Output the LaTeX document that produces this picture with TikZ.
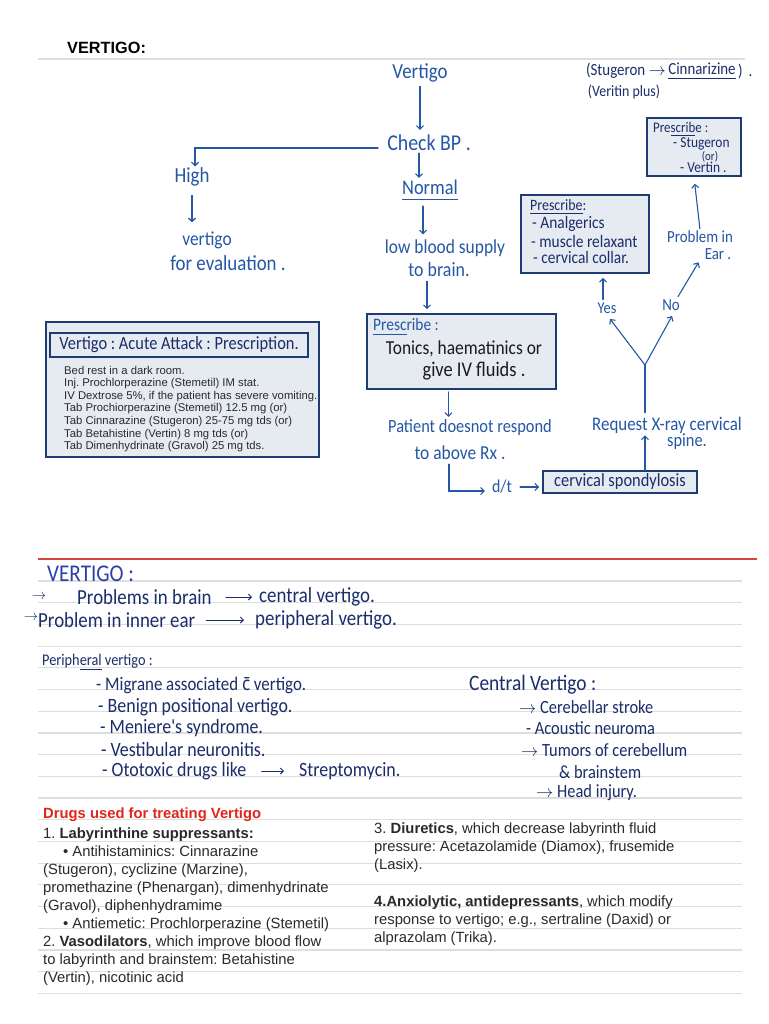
\documentclass[tikz,border=0pt]{standalone}
\usepackage{fontspec}
\setmainfont{Liberation Sans}
\newfontfamily\hand{Carlito}[FakeStretch=0.88]
\newfontfamily\notos{Noto Sans}[FakeStretch=0.88]
\usetikzlibrary{arrows.meta,calc}
\definecolor{ink}{HTML}{2457A6}
\definecolor{navy}{HTML}{1B2D6B}
\definecolor{vblue}{HTML}{2B3FA8}
\definecolor{boxline}{HTML}{1F3B73}
\definecolor{boxfill}{HTML}{E6EAF1}
\definecolor{rulec}{HTML}{DEDEDE}
\definecolor{redl}{HTML}{D64541}
\definecolor{drugred}{HTML}{E1251B}
\definecolor{txt}{HTML}{2A2A2A}
\definecolor{darktxt}{HTML}{1A1A1A}
\newcommand{\myul}[1]{\setbox0\hbox{#1}\rlap{\rule[-0.25em]{\wd0}{1.1pt}}\box0\relax}
\frenchspacing
\begin{document}
\begin{tikzpicture}[x=1pt,y=-1pt,
  hw/.style={font=\hand\fontsize{\fpeval{#1*1.13}}{\fpeval{#1*1.13}}\selectfont, text=ink, inner sep=1pt},
  hw/.default=16,
  nv/.style={hw=#1, text=navy},
  nv/.default=16,
  arr/.style={draw=ink, line width=1.1pt, line cap=round, -{Straight Barb[length=3.5pt,width=7pt]}},
  narr/.style={draw=navy, line width=1pt, line cap=round, -{Straight Barb[length=3pt,width=6pt]}},
  plain/.style={draw=ink, line width=1.1pt, line cap=round},
  flowbox/.style={draw=boxline, fill=boxfill, line width=1.6pt, inner sep=0pt},
  ruleline/.style={draw=rulec, line width=1.2pt},
  body/.style={font=\fontsize{14.8}{17}\selectfont, text=txt, anchor=base west, inner sep=0pt},
  small/.style={font=\fontsize{11.3}{12}\selectfont, text=txt, anchor=base west, inner sep=0pt}
]
\useasboundingbox (0,0) rectangle (768,1024);
\fill[white] (0,0) rectangle (768,1024);

% ---------- top part ----------
\node[font=\bfseries\fontsize{16.3}{17}\selectfont, anchor=west, inner sep=0pt, text=black] (title) at (67,48) {VERTIGO:};
\draw[ruleline] (38,59) -- (745,59);

\node[hw=19] (vert) at (420,73) {Vertigo};
\node[hw=20] (bp) at (429,143) {Check BP .};
\node[hw=19] (high) at (192,177) {High};
\node[hw=17.5] (veval1) at (207,240) {vertigo};
\node[hw=19] (veval2) at (228,263) {for evaluation .};
\node[hw=18.5] (normal) at (430,190) {\myul{Normal}};
\node[hw=17.5] (lowbs) at (445,248) {low blood supply};
\node[hw=18] (tobrain) at (439,270) {to brain.};

\node[flowbox, minimum width=189pt, minimum height=75pt] (pbox1) at (461.5,351.5) {};
\node[hw=15.5, anchor=west] (p1t) at (372,327) {\myul{Presc}ribe :};
\node[hw=17.5, text=darktxt] (p1a) at (464,349) {Tonics, haematinics or};
\node[hw=18.5, text=darktxt] (p1b) at (474,371) {give IV fluids .};

\node[hw=16.5] (patient) at (470,428) {Patient doesnot respond};
\node[hw=17.5] (above) at (460,453) {to above Rx .};
\coordinate (lcorner) at (449,491);
\node[hw=16] (dt) at (502,487) {d/t};
\node[flowbox, minimum width=154pt, minimum height=22pt, nv=16.5] (cs) at (620,482) {cervical spondylosis};

\node[hw=17] (req) at (667,425) {Request X-ray cervical};
\node[hw=16.5] (spine) at (687,442) {spine.};
\coordinate (fork) at (645,365);
\coordinate (yesarm) at (610,319);
\coordinate (noarm) at (672,316);
\node[hw=14.5] (yes) at (607,308) {Yes};
\node[hw=15] (no) at (671,305) {No};

\node[flowbox, minimum width=128pt, minimum height=78pt] (pbox2) at (585,234) {};
\node[nv=14, anchor=west] (p2t) at (529,207) {\myul{Prescribe}:};
\node[nv=15.5, anchor=west] (p2a) at (531,224) {- Analgerics};
\node[nv=15.5, anchor=west] (p2b) at (530,241) {- muscle relaxant};
\node[nv=15.5, anchor=west] (p2c) at (532,257) {- cervical collar.};

\node[hw=15] (ear) at (700,237) {Problem in};
\node[hw=15] (ear2) at (718,254) {Ear .};

\node[flowbox, minimum width=94pt, minimum height=58pt] (pbox3) at (694,147) {};
\node[nv=13, anchor=west] (p3t) at (652,129) {Pre\myul{scrib}e :};
\node[nv=13.5, anchor=west, inner sep=0pt] (p3a) at (673,144) {- Stugeron};
\node[nv=11, inner sep=0pt] (p3b) at (710,156.5) {(or)};
\node[nv=13.5, anchor=west, inner sep=0pt] (p3c) at (680,167.5) {- Vertin .};

\node[nv=15] (cin) at (702,71) {\myul{Cinnarizine}};
\node[nv=15, anchor=east] (stug) at (cin.west) {(Stugeron $\rightarrow$};
\node[nv=15, anchor=west] (cpar) at (cin.east) {)\hspace{6pt}.};
\node[nv=14] (veritin) at (624,92) {(Veritin plus)};

% connectors
\draw[arr, shorten <=3pt, shorten >=4pt] (vert.south) -- (vert.south |- bp.north);
\draw[arr, shorten <=8pt] ([yshift=-5pt]bp.west) -| ([xshift=3pt]high.north);
\draw[arr, shorten <=8pt, shorten >=8pt] (high.south) -- (high.south |- veval1.north);
\draw[arr, shorten <=1pt, shorten >=1pt] ([xshift=-10pt]bp.south) -- ([xshift=-10pt]bp.south |- normal.north);
\draw[arr, shorten <=5pt, shorten >=4pt] ([xshift=-7pt]normal.south) -- ([xshift=-7pt]normal.south |- lowbs.north);
\draw[arr, shorten <=3pt, shorten >=4pt] ([xshift=-12pt]tobrain.south) -- ([xshift=-12pt]tobrain.south |- pbox1.north);
\draw[arr, shorten <=2pt, shorten >=2pt] ([xshift=-13pt]pbox1.south) -- ([xshift=-13pt]pbox1.south |- patient.north);
\draw[arr, shorten <=3pt] (above.south -| lcorner) -- (lcorner) -- ([xshift=-6pt]dt.west |- lcorner);
\draw[arr, shorten <=7pt, shorten >=3pt] (dt.east) -- (dt.east -| cs.west);
\draw[arr, shorten >=1pt] (cs.north -| fork) -- (req.south -| fork);
\draw[plain, shorten <=3pt] (req.north -| fork) -- (fork);
\draw[arr] (fork) -- (yesarm);
\draw[arr] (fork) -- (noarm);
\draw[arr, shorten <=2pt, shorten >=4pt] ([xshift=-4pt]yes.north) -- ([xshift=-4pt]yes.north |- pbox2.south);
\draw[arr, shorten <=2pt, shorten >=2pt] ([xshift=6pt]no.north) -- ([xshift=-4pt]ear2.south west);
\draw[arr, shorten <=1pt, shorten >=7pt] (ear.north) -- (pbox3.south);

% left prescription box
\node[draw=boxline, fill=boxfill, line width=1.4pt, minimum width=273pt, minimum height=135pt, inner sep=0pt] (lbox) at (182.5,389.5) {};
\node[draw=boxline, fill=boxfill, line width=1.8pt, minimum width=258pt, minimum height=24pt, inner sep=0pt, nv=16.5] (ltitle) at (179,345) {Vertigo : Acute Attack : Prescription.};
\foreach \t [count=\i] in {
  {Bed rest in a dark room.},
  {Inj. Prochlorperazine (Stemetil) IM stat.},
  {IV Dextrose 5\%, if the patient has severe vomiting.},
  {Tab Prochiorperazine (Stemetil) 12.5 mg (or)},
  {Tab Cinnarazine (Stugeron) 25-75 mg tds (or)},
  {Tab Betahistine (Vertin) 8 mg tds (or)},
  {Tab Dimenhydrinate (Gravol) 25 mg tds.}}
  \node[small, name=lb\i] at (64,{374+12.6*(\i-1)}) {\t};

% ---------- bottom part ----------
\draw[draw=redl, line width=1.2pt] (38,559) -- (757,559);
\foreach \k in {0,...,19} \draw[ruleline] (38,{581+21.7*\k}) -- (742,{581+21.7*\k});

\node[font=\hand\fontsize{24}{24}\selectfont, text=vblue, anchor=west, inner sep=0pt] (bigv) at (47,574) {VERTIGO :};
\node[nv=13, inner sep=0pt] (b1a) at (39,597) {$\rightarrow$};
\node[nv=19, anchor=west] (b1) at (76,597) {Problems in brain};
\node[nv=19, anchor=west] (b1c) at (258,597) {central vertigo.};
\draw[narr, shorten <=13pt, shorten >=6pt] (b1.east) -- (b1c.west);
\node[nv=13, inner sep=0pt] (b2a) at (31,618) {$\rightarrow$};
\node[nv=19, anchor=west] (b2) at (37,620) {Problem in inner ear};
\node[nv=19, anchor=west] (b2c) at (254,620) {peripheral vertigo.};
\draw[narr, shorten <=10pt, shorten >=10pt] (b2.east) -- (b2c.west);

\node[nv=14.4, anchor=west] (peri) at (41,662) {Periph\myul{eral} vertigo :};
\node[nv=17, anchor=west] (pe1) at (95,685) {- Migrane associated {\notos c̄} vertigo.};
\node[nv=18, anchor=west] (pe2) at (97,707) {- Benign positional vertigo.};
\node[nv=18, anchor=west] (pe3) at (99,728) {- Meniere's syndrome.};
\node[nv=18, anchor=west] (pe4) at (100,750) {- Vestibular neuronitis.};
\node[nv=18, anchor=west] (pe5) at (101,771) {- Ototoxic drugs like};
\node[nv=18, anchor=west] (pe5b) at (298,771) {Streptomycin.};
\draw[narr, shorten <=14pt, shorten >=14pt] (pe5.east) -- (pe5b.west);

\node[nv=19.5, anchor=west] (cen) at (468,685) {Central Vertigo :};
\node[nv=16.5, anchor=west] (c1) at (518,707) {$\rightarrow$ Cerebellar stroke};
\node[nv=16.5, anchor=west] (c2) at (525,728) {- Acoustic neuroma};
\node[nv=16.5, anchor=west] (c3) at (520,750) {$\rightarrow$ Tumors of cerebellum};
\node[nv=16.5, anchor=west] (c4) at (558,772) {\& brainstem};
\node[nv=16.5, anchor=west] (c5) at (535,793) {$\rightarrow$ Head injury.};

% drugs
\node[body, font=\bfseries\fontsize{14.8}{17}\selectfont, text=drugred] (drugs) at (43,818) {Drugs used for treating Vertigo};
\foreach \t [count=\i] in {
  {1. \textbf{Labyrinthine suppressants:}},
  {\hspace*{20pt}• Antihistaminics: Cinnarazine},
  {(Stugeron), cyclizine (Marzine),},
  {promethazine (Phenargan), dimenhydrinate},
  {(Gravol), diphenhydramime},
  {\hspace*{20pt}• Antiemetic: Prochlorperazine (Stemetil)},
  {2. \textbf{Vasodilators}, which improve blood flow},
  {to labyrinth and brainstem: Betahistine},
  {(Vertin), nicotinic acid}}
  \node[body, name=dl\i] at (43,{838+18.1*(\i-1)}) {\t};
\node[body] (dr1) at (374,833) {3. \textbf{Diuretics}, which decrease labyrinth fluid};
\node[body] (dr2) at (374,851.3) {pressure: Acetazolamide (Diamox), frusemide};
\node[body] (dr3) at (374,869.6) {(Lasix).};
\node[body] (dr4) at (374,906.2) {\textbf{4.Anxiolytic, antidepressants}, which modify};
\node[body] (dr5) at (374,924.5) {response to vertigo; e.g., sertraline (Daxid) or};
\node[body] (dr6) at (374,942.8) {alprazolam (Trika).};
\end{tikzpicture}
\end{document}
